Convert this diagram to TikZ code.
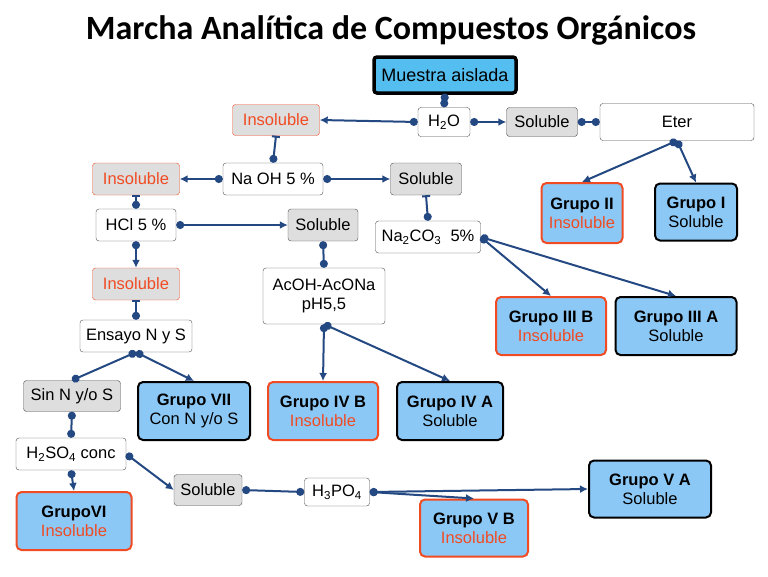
\documentclass[tikz,border=0pt]{standalone}
\usepackage{fontspec}
\setmainfont{Liberation Sans}
\newfontfamily\titlefont{Carlito}
\usetikzlibrary{arrows.meta}
\definecolor{ln}{RGB}{35,72,130}
\definecolor{bfill}{RGB}{140,200,245}
\definecolor{mfill}{RGB}{85,190,240}
\definecolor{org}{RGB}{240,75,35}
\definecolor{gfill}{RGB}{222,222,222}
\begin{document}
\begin{tikzpicture}[x=1pt,y=-1pt,
 box/.style={draw=black!70,rounded corners=3pt,fill=white,inner sep=0pt,font=\fontsize{16.5}{19}\selectfont},
 sol/.style={box,fill=gfill},
 ins/.style={box,fill=gfill,draw=org,text=org},
 grp/.style={box,fill=bfill,line width=2pt,rounded corners=5pt,align=center},
 grpr/.style={grp,draw=org},
 grpk/.style={grp,draw=black},
 c/.style={draw=ln,line width=2pt},
 da/.style={c,{Circle[length=8pt]}-{Latex[length=8pt,width=8pt]}},
 dd/.style={c,{Circle[length=8pt]}-{Circle[length=8pt]}},
 ba/.style={c,{Bar[width=8pt]}-{Latex[length=8pt,width=8pt]}},
 bd/.style={c,{Bar[width=8pt]}-{Circle[length=8pt]}}]
\useasboundingbox (0,0) rectangle (768,576);
\node[font=\titlefont\bfseries\fontsize{34}{38}\selectfont] at (391,30) {Marcha Analítica de Compuestos Orgánicos};
\node[box,fill=mfill,double=black,draw=black,double distance=1.5pt,line width=1pt,minimum width=142pt,minimum height=36pt,font=\fontsize{18}{20}\selectfont] (m) at (445,75) {Muestra aislada};
\node[box,minimum width=52pt,minimum height=29pt] (h2o) at (444,122) {H\textsubscript{2}O};
\node[ins,minimum width=87pt,minimum height=31pt] (i1) at (276,120) {Insoluble};
\node[sol,minimum width=71pt,minimum height=29pt] (s1) at (542,122) {Soluble};
\node[box,minimum width=154pt,minimum height=37pt] (eter) at (677,122) {Eter};
\node[grpr,minimum width=81pt,minimum height=60pt] (g2) at (582,213) {\textbf{Grupo II}\\\textcolor{org}{Insoluble}};
\node[grpk,minimum width=82pt,minimum height=57pt] (g1) at (696,212) {\textbf{Grupo I}\\Soluble};
\node[box,minimum width=100pt,minimum height=32pt] (naoh) at (273,179) {Na OH 5 \%};
\node[ins,minimum width=87pt,minimum height=32pt] (i2) at (136,179) {Insoluble};
\node[sol,minimum width=71pt,minimum height=32pt] (s2) at (426,179) {Soluble};
\node[box,minimum width=80pt,minimum height=32pt] (hcl) at (136,225) {HCl 5 \%};
\node[sol,minimum width=70pt,minimum height=32pt] (s3) at (323,225) {Soluble};
\node[box,minimum width=105pt,minimum height=32pt] (na2) at (428,237) {Na\textsubscript{2}CO\textsubscript{3}\ \ 5\%};
\node[ins,minimum width=87pt,minimum height=32pt] (i3) at (136,284) {Insoluble};
\node[box,minimum width=122pt,minimum height=56pt,align=center] (ac) at (324,296) {AcOH-AcONa\\pH5,5};
\node[grpr,minimum width=110pt,minimum height=58pt] (g3b) at (551,326) {\textbf{Grupo III B}\\\textcolor{org}{Insoluble}};
\node[grpk,minimum width=121pt,minimum height=58pt] (g3a) at (676,326) {\textbf{Grupo III A}\\Soluble};
\node[box,minimum width=112pt,minimum height=32pt] (ens) at (136,336) {Ensayo N y S};
\node[sol,minimum width=97pt,minimum height=31pt] (sin) at (72,396) {Sin N y/o S};
\node[grpk,minimum width=112pt,minimum height=58pt] (g7) at (194,411) {\textbf{Grupo VII}\\Con N y/o S};
\node[grpr,minimum width=110pt,minimum height=58pt] (g4b) at (323,411) {\textbf{Grupo IV B}\\\textcolor{org}{Insoluble}};
\node[grpk,minimum width=106pt,minimum height=58pt] (g4a) at (450,411) {\textbf{Grupo IV A}\\Soluble};
\node[box,minimum width=110pt,minimum height=32pt] (h2s) at (71,454) {H\textsubscript{2}SO\textsubscript{4} conc};
\node[grpr,minimum width=115pt,minimum height=58pt] (g6) at (74,521) {\textbf{GrupoVI}\\\textcolor{org}{Insoluble}};
\node[sol,minimum width=68pt,minimum height=31pt] (s4) at (208,490) {Soluble};
\node[box,minimum width=65pt,minimum height=28pt] (h3) at (337,492) {H\textsubscript{3}PO\textsubscript{4}};
\node[grpr,minimum width=108pt,minimum height=57pt] (g5b) at (474,528) {\textbf{Grupo V B}\\\textcolor{org}{Insoluble}};
\node[grpk,minimum width=122pt,minimum height=57pt] (g5a) at (650,489) {\textbf{Grupo V A}\\Soluble};
\draw[dd] (m.south) -- (h2o.north);
\draw[da] (h2o.west) -- (i1.east);
\draw[da] (h2o.east) -- (s1.west);
\draw[dd] (s1.east) -- (eter.west);
\draw[da] (eter.south) -- (g2.north);
\draw[da] (eter.south) -- (g1.north);
\draw[bd] (i1.south) -- (naoh.north);
\draw[da] (naoh.west) -- (i2.east);
\draw[da] (naoh.east) -- (s2.west);
\draw[bd] (i2.south) -- (hcl.north);
\draw[da] (hcl.east) -- (s3.west);
\draw[bd] (s2.south) -- (na2.north);
\draw[da] (na2.east) -- (g3b.north);
\draw[da] (na2.east) -- (g3a.north);
\draw[da] (hcl.south) -- (i3.north);
\draw[dd] (s3.south) -- (ac.north);
\draw[bd] (i3.south) -- (ens.north);
\draw[da] (ac.south) -- (g4b.north);
\draw[da] (ac.south) -- (g4a.north);
\draw[dd] (ens.south) -- (sin.north);
\draw[da] (ens.south) -- (g7.north);
\draw[dd] (sin.south) -- (h2s.north);
\draw[da] (h2s.south) -- (g6.north);
\draw[da] (h2s.east) -- (s4.west);
\draw[dd] (s4.east) -- (h3.west);
\draw[da] (h3.east) -- (g5a.west);
\draw[da] (h3.east) -- (g5b.north);
\end{tikzpicture}
\end{document}
